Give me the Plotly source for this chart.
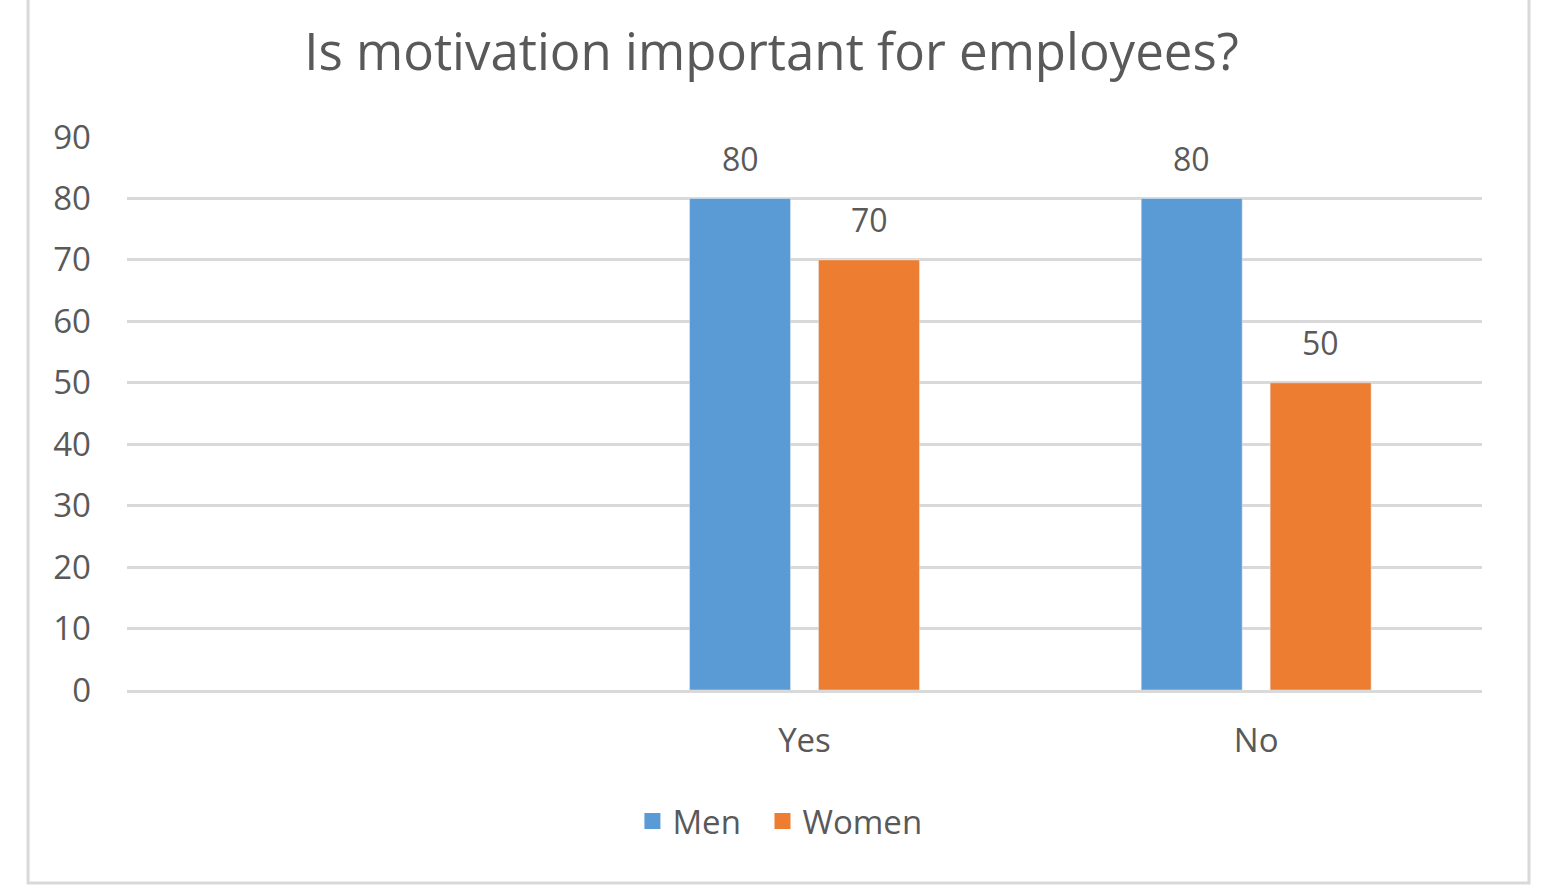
import plotly.graph_objects as go

categories = [" ", "Yes", "No"]
men = [None, 80, 80]
women = [None, 70, 50]
y_ticks = [0, 10, 20, 30, 40, 50, 60, 70, 80, 90]

FONT = "Open Sans"
GRAY = "#595959"
BLUE = "#5B9BD5"
ORANGE = "#ED7D31"

fig = go.Figure()
fig.add_trace(go.Bar(name="Men", x=categories, y=men, marker_color=BLUE, showlegend=False))
fig.add_trace(go.Bar(name="Women", x=categories, y=women, marker_color=ORANGE, showlegend=False))

# legend entries with larger square swatches
fig.add_trace(go.Scatter(name="Men", x=[None], y=[None], mode="markers", legend="legend",
                         marker=dict(symbol="square", size=20, color=BLUE)))
fig.add_trace(go.Scatter(name="Women", x=[None], y=[None], mode="markers", legend="legend2",
                         marker=dict(symbol="square", size=20, color=ORANGE)))

# data labels
for vals, shift in ((men, -1), (women, 1)):
    for c, v in zip(categories, vals):
        if v is None:
            continue
        fig.add_annotation(x=c, y=v, text=str(v), showarrow=False, xref="x", yref="y",
                           xshift=shift * 64.5, yshift=40, yanchor="middle",
                           font=dict(size=32, color=GRAY, family=FONT))

legend_common = dict(orientation="h", xanchor="left", y=-0.237, yanchor="middle",
                     font=dict(size=33, color=GRAY, family=FONT), itemwidth=30,
                     bgcolor="rgba(0,0,0,0)")

fig.update_layout(
    width=1543, height=891,
    margin=dict(l=127, r=61, t=137, b=201),
    paper_bgcolor="white", plot_bgcolor="white",
    barmode="group", bargap=0.429, bargroupgap=0.217,
    title=dict(text="Is motivation important for employees?", x=0.5, xanchor="center",
               y=0.941, yanchor="middle", font=dict(size=51, color=GRAY, family=FONT)),
    font=dict(family=FONT, color=GRAY),
    legend=dict(x=0.373, **legend_common),
    legend2=dict(x=0.469, **legend_common),
    showlegend=True,
)
fig.update_xaxes(type="category", showgrid=False, ticks="", showline=True,
                 linecolor="#D9D9D9", linewidth=2.5,
                 tickfont=dict(size=33, color=GRAY, family=FONT), ticklabelstandoff=20)
fig.update_yaxes(range=[0, 90], tickvals=y_ticks, showgrid=True, gridcolor="#D9D9D9",
                 gridwidth=2.5, zeroline=False, showline=False, ticks="",
                 tickfont=dict(size=33, color=GRAY, family=FONT), ticklabelstandoff=35)

fig.add_shape(type="rect", xref="paper", yref="paper",
              x0=-0.073, x1=1.0347, y0=-0.349, y1=1.4,
              line=dict(color="#D9D9D9", width=3), fillcolor="rgba(0,0,0,0)", layer="below")

fig.write_html("out.html")
